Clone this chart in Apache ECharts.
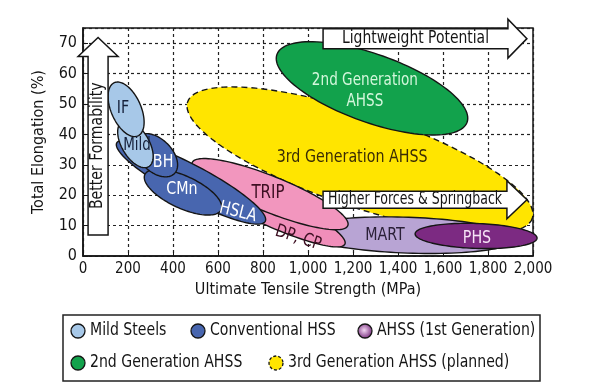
<!DOCTYPE html>
<html><head><meta charset="utf-8">
<script src="https://cdn.jsdelivr.net/npm/echarts@6/dist/echarts.min.js"></script>
<style>html,body{margin:0;padding:0;background:#fff;} #c{width:600px;height:383px;}</style>
</head><body><div id="c"></div>
<script>
const FONT = "'Liberation Sans Narrow','DejaVu Sans Condensed','Roboto Condensed',Arial,sans-serif";

// ---------- DATA ----------
// axis ranges
const xMin = 0, xMax = 2000, xStep = 200;      // Ultimate Tensile Strength (MPa)
const yMin = 0, yMax = 75, yStep = 10;         // Total Elongation (%)
const xAxisTitle = 'Ultimate Tensile Strength (MPa)';
const yAxisTitle = 'Total Elongation (%)';

// steel property regions, bottom-to-top drawing order
const regionNames = ['3rd Gen AHSS', '2nd Gen AHSS', 'MART', 'PHS', 'DP, CP', 'TRIP', 'HSLA', 'CMn', 'BH', 'Mild', 'IF'];
// ends of the long axis of each region (MPa, %) and half-width of the region (% elongation)
const regionStartUTS = [465, 862, 965, 1476, 454, 485, 150, 275, 243, 174, 139];
const regionStartEl  = [50.7, 66.3, 8.1, 7.3, 28.3, 30.7, 37.2, 26.8, 39.2, 44.2, 57.0];
const regionEndUTS   = [1997, 1707, 1924, 2018, 1164, 1177, 810, 614, 406, 292, 244];
const regionEndEl    = [12.4, 44.0, 5.6, 5.9, 3.9, 10.0, 11.4, 15.2, 27.1, 29.4, 39.5];
const regionHalfEl   = [15.4, 11.2, 5.9, 4.1, 5.3, 5.9, 5.6, 5.3, 5.3, 4.5, 4.9];

// region labels
const labelTexts = ['3rd Generation AHSS', '2nd Generation\nAHSS', 'MART', 'PHS', 'DP, CP', 'TRIP', 'HSLA', 'CMn', 'BH', 'Mild', 'IF'];
const labelUTS   = [1196, 1253, 1342, 1751, 956, 822, 689, 440, 356, 240, 178];
const labelEl    = [32.5, 54.2, 6.9, 5.9, 5.9, 20.7, 14.4, 22.0, 30.9, 36.4, 48.6];

// annotation arrows
const arrowTexts   = ['Better Formability', 'Lightweight Potential', 'Higher Forces & Springback'];
const arrowFromUTS = [67, 1067, 1067];
const arrowFromEl  = [6.9, 71.5, 18.5];
const arrowToUTS   = [67, 1973, 1973];
const arrowToEl    = [71.9, 71.5, 18.5];

// legend
const legendNames = ['Mild Steels', 'Conventional HSS', 'AHSS (1st Generation)', '2nd Generation AHSS', '3rd Generation AHSS (planned)'];

// ---------- STYLES ----------
const regionStyle = {
  '3rd Gen AHSS': {fill: '#FFE500', dash: [6, 4]},
  '2nd Gen AHSS': {fill: '#12A24C'},
  'MART':   {fill: '#B8A4D4'},
  'PHS':    {fill: '#7C2A82'},
  'DP, CP': {fill: '#F08EBA'},
  'TRIP':   {fill: '#F296BE'},
  'HSLA':   {fill: '#4866AF'},
  'CMn':    {fill: '#4866AF'},
  'BH':     {fill: '#4866AF'},
  'Mild':   {fill: '#A7C8E8'},
  'IF':     {fill: '#A7C8E8'}
};
const labelStyle = {
  '3rd Generation AHSS': {color: '#3a2c05', size: 18},
  '2nd Generation\nAHSS': {color: '#d4f7dc', size: 18, sx: 0.84},
  'MART': {color: '#2b2038', size: 18},
  'PHS': {color: '#f6e3f6', size: 18},
  'DP, CP': {color: '#3d0f22', size: 18, rot: -18},
  'TRIP': {color: '#3d0f22', size: 19},
  'HSLA': {color: '#ffffff', size: 18, rot: -14},
  'CMn': {color: '#ffffff', size: 18},
  'BH': {color: '#ffffff', size: 18},
  'Mild': {color: '#15203a', size: 17},
  'IF': {color: '#15203a', size: 18}
};
const LABEL_SX = 0.88;
const arrowShaft = [10, 10, 8.5];
const arrowHead = [20, 19.5, 19];
const arrowHeadLen = [19, 19, 20];
const arrowTextSX = [0.92, 0.91, 0.82];

const chart = echarts.init(document.getElementById('c'), null, {renderer: 'canvas'});

function ellipseItem(params, api) {
  const p1 = api.coord([api.value(0), api.value(1)]);
  const p2 = api.coord([api.value(2), api.value(3)]);
  const b = Math.abs(api.size([0, api.value(4)])[1]);
  const cx = (p1[0] + p2[0]) / 2, cy = (p1[1] + p2[1]) / 2;
  const a = Math.hypot(p2[0] - p1[0], p2[1] - p1[1]) / 2;
  const ang = Math.atan2(p2[1] - p1[1], p2[0] - p1[0]);
  const ca = Math.cos(ang), sa = Math.sin(ang);
  const pts = [];
  for (let i = 0; i < 120; i++) {
    const t = i / 120 * Math.PI * 2;
    const u = a * Math.cos(t), v = b * Math.sin(t);
    pts.push([cx + u * ca - v * sa, cy + u * sa + v * ca]);
  }
  const st = regionStyle[regionNames[params.dataIndex]];
  return {
    type: 'polygon',
    shape: {points: pts},
    style: {fill: st.fill, stroke: '#151515', lineWidth: 1.4, lineDash: st.dash || null}
  };
}

function labelItem(params, api) {
  const p = api.coord([api.value(0), api.value(1)]);
  const txt = labelTexts[params.dataIndex];
  const st = labelStyle[txt];
  const sx = st.sx || LABEL_SX;
  return {
    type: 'text',
    x: p[0], y: p[1],
    scaleX: sx,
    rotation: (st.rot || 0) * Math.PI / 180,
    style: {text: txt, fill: st.color, font: st.size + 'px ' + FONT, align: 'center', verticalAlign: 'middle', lineHeight: 21}
  };
}

function arrowItem(params, api) {
  const i = params.dataIndex;
  const p0 = api.coord([api.value(0), api.value(1)]);
  const p1 = api.coord([api.value(2), api.value(3)]);
  const len = Math.hypot(p1[0] - p0[0], p1[1] - p0[1]);
  const d = [(p1[0] - p0[0]) / len, (p1[1] - p0[1]) / len];
  const n = [-d[1], d[0]];
  const w = arrowShaft[i], W = arrowHead[i], L = arrowHeadLen[i];
  const h = [p1[0] - d[0] * L, p1[1] - d[1] * L];
  const pts = [
    [p0[0] + n[0] * w, p0[1] + n[1] * w],
    [h[0] + n[0] * w, h[1] + n[1] * w],
    [h[0] + n[0] * W, h[1] + n[1] * W],
    [p1[0], p1[1]],
    [h[0] - n[0] * W, h[1] - n[1] * W],
    [h[0] - n[0] * w, h[1] - n[1] * w],
    [p0[0] - n[0] * w, p0[1] - n[1] * w]
  ];
  const mid = [(p0[0] + h[0]) / 2, (p0[1] + h[1]) / 2];
  return {
    type: 'group',
    children: [
      {type: 'polygon', shape: {points: pts}, style: {fill: '#ffffff', stroke: '#151515', lineWidth: 1.5}},
      {type: 'text', x: mid[0], y: mid[1], rotation: -Math.atan2(d[1], d[0]), scaleX: arrowTextSX[i],
        style: {text: arrowTexts[i], fill: '#151515', font: '17px ' + FONT, align: 'center', verticalAlign: 'middle'}}
    ]
  };
}

const regionData = regionNames.map((_, i) => [regionStartUTS[i], regionStartEl[i], regionEndUTS[i], regionEndEl[i], regionHalfEl[i]]);
const labelData = labelTexts.map((_, i) => [labelUTS[i], labelEl[i]]);
const arrowData = arrowTexts.map((_, i) => [arrowFromUTS[i], arrowFromEl[i], arrowToUTS[i], arrowToEl[i]]);

// legend graphic
const LX = 63, LY = 315;
const legendIcons = [
  {fill: '#A7C8E8'},
  {fill: '#4866AF'},
  {fill: {type: 'radial', x: 0.45, y: 0.45, r: 0.6, colorStops: [{offset: 0, color: '#f2d6f2'}, {offset: 1, color: '#6e1f74'}]}},
  {fill: '#12A24C'},
  {fill: '#FFE500', dash: [3, 2]}
];
const legendPos = [[78, 331], [198, 331], [365, 331], [78, 363], [276, 363]];
const legendGraphic = [{
  type: 'rect', shape: {x: LX, y: LY, width: 477, height: 66},
  style: {fill: '#ffffff', stroke: '#222', lineWidth: 1.5}
}];
legendNames.forEach((nm, i) => {
  const [x, y] = legendPos[i];
  legendGraphic.push({type: 'circle', shape: {cx: x, cy: y, r: 7},
    style: {fill: legendIcons[i].fill, stroke: '#151515', lineWidth: 1.3, lineDash: legendIcons[i].dash || null}});
  legendGraphic.push({type: 'text', x: x + 12, y: y, scaleX: 0.92,
    style: {text: nm, fill: '#151515', font: '17px ' + FONT, align: 'left', verticalAlign: 'middle'}});
});

chart.setOption({
  animation: false,
  backgroundColor: '#ffffff',
  grid: {left: 83, right: 67, top: 28, bottom: 127, show: true, borderColor: '#151515', borderWidth: 1.5, backgroundColor: 'transparent'},
  xAxis: {
    type: 'value', min: xMin, max: xMax, interval: xStep,
    name: xAxisTitle, nameLocation: 'middle', nameGap: 26,
    nameTextStyle: {fontFamily: FONT, fontSize: 16, color: '#151515'},
    axisLine: {show: true, lineStyle: {color: '#151515', width: 1.5}},
    axisTick: {show: true, inside: true, length: 4, lineStyle: {color: '#151515'}},
    axisLabel: {margin: 6, fontFamily: FONT, fontSize: 15, color: '#151515',
      formatter: v => v.toLocaleString('en-US')},
    splitLine: {show: true, lineStyle: {color: '#222', width: 1.2, type: [3, 3]}}
  },
  yAxis: {
    type: 'value', min: yMin, max: yMax, interval: yStep,
    name: yAxisTitle, nameLocation: 'middle', nameGap: 36,
    nameTextStyle: {fontFamily: FONT, fontSize: 16, color: '#151515'},
    axisLine: {show: true, lineStyle: {color: '#151515', width: 1.5}},
    axisTick: {show: true, inside: true, length: 5, lineStyle: {color: '#151515'}},
    axisLabel: {margin: 6, fontFamily: FONT, fontSize: 16, color: '#151515', showMaxLabel: false},
    splitLine: {show: true, lineStyle: {color: '#222', width: 1.2, type: [3, 3]}}
  },
  series: [
    {type: 'custom', name: 'regions', clip: false, renderItem: ellipseItem, data: regionData, z: 2, silent: true},
    {type: 'custom', name: 'arrows', clip: false, renderItem: arrowItem, data: arrowData, z: 3, silent: true},
    {type: 'custom', name: 'labels', clip: false, renderItem: labelItem, data: labelData, z: 4, silent: true}
  ],
  graphic: legendGraphic
});
</script></body></html>
